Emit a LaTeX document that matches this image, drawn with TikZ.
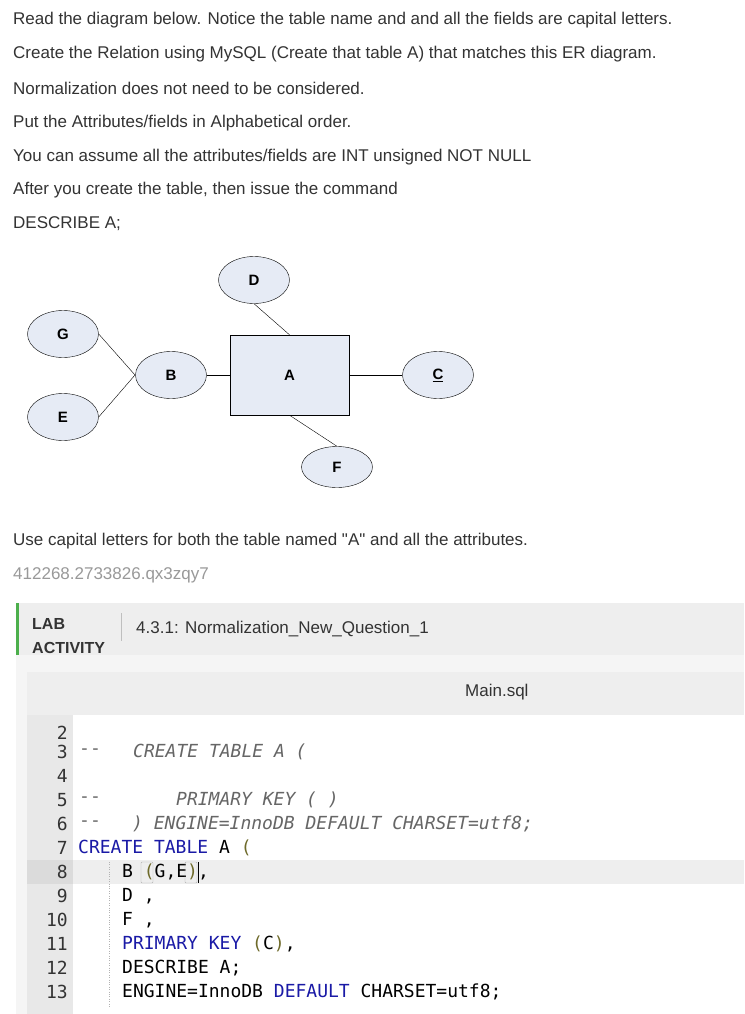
\documentclass[tikz,border=0pt]{standalone}
\usepackage{fontspec}
\setmainfont{Liberation Sans}
\newfontfamily\codef{DejaVu Sans Mono}
\usetikzlibrary{shapes.geometric}
\definecolor{ell}{HTML}{E6EBF5}
\definecolor{kw}{HTML}{1A1AA6}
\definecolor{par}{HTML}{6E6A2A}
\definecolor{cm}{HTML}{666666}
\definecolor{txt}{HTML}{333333}
\begin{document}
\begin{tikzpicture}[x=1pt,y=-1pt,
  para/.style={anchor=west,inner sep=0,font=\fontsize{17}{19}\selectfont,text=txt},
  attr/.style={ellipse,draw,fill=ell,minimum width=71pt,minimum height=47pt,inner sep=0,font=\bfseries\fontsize{15}{17}\selectfont},
  ln/.style={anchor=east,inner sep=0,font=\codef\fontsize{18}{20}\selectfont,text=txt},
  code/.style={anchor=west,inner sep=0,font=\codef\fontsize{18}{20}\selectfont}]
\useasboundingbox (0,0) rectangle (744,1014);
\fill[white] (0,0) rectangle (744,1014);
\node[para] (t1) at (13,20) {Read the diagram below. Notice the table name and and all the fields are capital letters.};
\node[para] (t2) at (13,54) {Create the Relation using MySQL (Create that table A) that matches this ER diagram.};
\node[para] (t3) at (13,88) {Normalization does not need to be considered.};
\node[para] (t4) at (13,123) {Put the Attributes/fields in Alphabetical order.};
\node[para] (t5) at (13,157) {You can assume all the attributes/fields are INT unsigned NOT NULL};
\node[para] (t6) at (13,190) {After you create the table, then issue the command};
\node[para] (t7) at (13,224) {DESCRIBE A;};
% ER
\node[draw,fill=ell,minimum width=119pt,minimum height=80pt,inner sep=0,font=\bfseries\fontsize{15}{17}\selectfont] (A) at (289.5,375) {A};
\node[attr] (D) at (254,280) {D};
\node[attr] (G) at (63,334) {G};
\node[attr] (E) at (63,417) {E};
\node[attr] (B) at (171,375) {B};
\node[attr] (C) at (438,375) {\underline{C}};
\node[attr,minimum height=41pt] (F) at (337,467) {F};
\coordinate (j) at (135,375);
\draw (G.east) -- (j) -- (E.east);
\draw (B) -- (A) -- (C);
\draw (D.south) -- (A.north);
\draw (A.south) -- (F.north);
\node[para] (u1) at (13,541) {Use capital letters for both the table named \textquotedbl A\textquotedbl\ and all the attributes.};
\node[para,text=gray!80] (u2) at (13,575) {412268.2733826.qx3zqy7};
% lab activity
\fill[gray!13] (16,603) rectangle (744,655);
\fill[green!55!black!70] (16,603) rectangle (19,655);
\draw[gray!50,line width=1pt] (121,613) -- (121,641);
\node[para,font=\bfseries\fontsize{16}{18}\selectfont] (lab) at (32,624) {LAB};
\node[para,font=\bfseries\fontsize{16}{18}\selectfont] (act) at (32,648) {ACTIVITY};
\node[para] (ttl) at (136,629) {4.3.1: Normalization\_New\_Question\_1};
% code panel
\fill[gray!8] (16,655) rectangle (744,1014);
\fill[gray!13] (27,672) rectangle (744,715);
\fill[white] (73,715) rectangle (744,1014);
\fill[gray!18] (27,715) rectangle (73,1014);
\fill[gray!13] (73,860) rectangle (744,884);
\fill[gray!28] (27,860) rectangle (73,884);
\node[para] (ms) at (465,692) {Main.sql};
\draw[gray!60,dotted] (109,862) -- (109,1008);
\foreach \n/\y in {2/733,3/752,4/776,5/800,6/824,7/848,8/872,9/896,10/920,11/944,12/968,13/992}
  \node[ln] (n\n) at (68,\y) {\n};
\node[code,text=cm] (c3d) at (79,752) {--};
\node[code,text=cm] (c3) at (133,752) {\textit{CREATE TABLE A (}};
\node[code,text=cm] (c5d) at (79,800) {--};
\node[code,text=cm] (c5) at (176,800) {\textit{PRIMARY KEY ( )}};
\node[code,text=cm] (c6d) at (79,824) {--};
\node[code,text=cm] (c6) at (132,824) {\textit{) ENGINE=InnoDB DEFAULT CHARSET=utf8;}};
\node[code] (c7) at (78,848) {\textcolor{kw}{CREATE TABLE} A \textcolor{par}{(}};
\node[code] (c8) at (122,872) {B \textcolor{par}{(}G,E\textcolor{par}{)},};
\draw[gray!60,rounded corners=1pt] (141,862) rectangle (153,883);
\draw[gray!60,rounded corners=1pt] (185,862) rectangle (197,883);
\draw[black,line width=0.8pt] (198,862) -- (198,883);
\node[code] (c9) at (122,896) {D ,};
\node[code] (c10) at (122,920) {F ,};
\node[code] (c11) at (122,944) {\textcolor{kw}{PRIMARY KEY} \textcolor{par}{(}C\textcolor{par}{)},};
\node[code] (c12) at (122,968) {DESCRIBE A;};
\node[code] (c13) at (122,992) {ENGINE=InnoDB \textcolor{kw}{DEFAULT} CHARSET=utf8;};
\end{tikzpicture}
\end{document}
